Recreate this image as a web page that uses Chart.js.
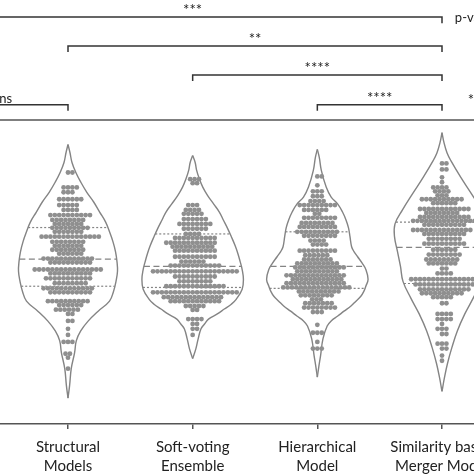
<!DOCTYPE html>
<html>
<head>
<meta charset="utf-8">
<script src="https://cdn.jsdelivr.net/npm/chart.js@4.4.1/dist/chart.umd.min.js"></script>
<style>
  html, body { margin: 0; padding: 0; width: 474px; height: 474px; overflow: hidden; background: #fff; }
  /* the figure is wider than the window: the outer categories fall outside the crop */
  #wrap { position: absolute; left: -123px; top: 0; width: 756px; height: 474px; }
</style>
</head>
<body>
<div id="wrap"><canvas id="myChart"></canvas></div>
<script>
// categories on the x axis (index 0 and 5 lie outside the visible crop)
var categories = [[""], ["Structural", "Models"], ["Soft-voting", "Ensemble"], ["Hierarchical", "Model"], ["Similarity based", "Merger Model"], [""]];
var tickPos = [0, 1, 2, 3, 4, 5];

// swarm points: value of each row and how many points sit on it
var structRowsV = [82.7, 77.8, 76.2, 73.9, 72.0, 70.4, 68.7, 67.1, 65.8, 64.5, 63.2, 61.6, 59.9, 58.6, 57.3, 56.0, 54.4, 53.1, 50.8, 49.5, 47.9, 46.3, 44.6, 43.3, 40.4, 39.1, 37.6, 36.2, 33.9, 31.3, 29.3, 27.0, 23.1, 21.8, 18.2];
var structRowsN = [2, 4, 3, 6, 5, 4, 10, 8, 7, 9, 7, 14, 8, 7, 8, 6, 12, 10, 16, 10, 11, 8, 12, 10, 10, 6, 6, 2, 2, 1, 1, 3, 2, 1, 1];
var softRowsV = [80.5, 79.2, 72.0, 70.4, 69.1, 67.4, 65.8, 64.2, 62.5, 61.2, 59.6, 58.3, 57.0, 55.0, 53.4, 52.1, 50.2, 48.5, 46.9, 45.3, 43.3, 41.7, 40.4, 38.8, 37.5, 34.5, 32.9, 31.3, 29.3];
var softRowsN = [3, 2, 3, 4, 5, 6, 8, 6, 4, 10, 12, 10, 10, 10, 6, 12, 20, 10, 8, 14, 20, 14, 12, 5, 2, 4, 2, 2, 1];
var hierRowsV = [81.4, 78.5, 76.5, 74.9, 73.3, 72.0, 70.4, 69.1, 67.8, 66.1, 64.8, 63.2, 61.9, 60.3, 59.0, 57.0, 55.5, 54.1, 52.8, 51.5, 50.2, 48.9, 47.6, 46.3, 44.9, 43.6, 42.3, 41.0, 39.7, 38.3, 36.8, 32.6, 30.0, 27.0, 24.8];
var hierRowsN = [2, 1, 3, 3, 4, 9, 6, 2, 8, 8, 9, 10, 8, 4, 4, 9, 6, 7, 10, 12, 10, 14, 12, 14, 16, 10, 8, 3, 7, 8, 3, 1, 3, 1, 3];
var simRowsV = [85.7, 83.7, 81.1, 79.5, 77.8, 76.5, 75.2, 73.9, 72.6, 70.7, 69.4, 68.1, 66.8, 65.5, 63.8, 62.5, 60.9, 59.3, 57.3, 55.7, 54.1, 52.8, 51.1, 49.5, 47.6, 45.9, 44.3, 43.0, 41.7, 39.7, 36.2, 34.5, 32.9, 31.3, 29.6, 26.4, 24.8, 22.5, 20.8];
var simRowsN = [2, 2, 1, 1, 4, 4, 3, 10, 6, 12, 8, 12, 15, 10, 14, 10, 8, 10, 6, 8, 8, 7, 2, 4, 15, 14, 12, 10, 5, 2, 4, 4, 1, 3, 2, 3, 2, 1, 1];

// violin outlines: value and half width (in category units), top to bottom
var structShapeV = [91.9, 89.2, 86.0, 82.7, 79.5, 76.2, 73.0, 69.7, 66.4, 63.2, 59.9, 56.7, 53.4, 50.2, 46.9, 43.6, 40.4, 37.1, 33.9, 30.6, 27.4, 23.5, 18.2, 12.7, 8.5];
var structShapeW = [0, 0.016, 0.032, 0.063, 0.103, 0.151, 0.206, 0.254, 0.302, 0.333, 0.361, 0.381, 0.393, 0.397, 0.385, 0.365, 0.333, 0.242, 0.163, 0.102, 0.067, 0.053, 0.026, 0.013, 0];
var softShapeV = [88.3, 86.0, 83.4, 80.8, 77.9, 75.2, 72.3, 69.7, 67.1, 64.5, 61.6, 58.6, 56.0, 53.4, 50.8, 47.6, 44.3, 41.0, 39.4, 37.8, 36.2, 34.5, 32.9, 31.3, 28.0, 24.8, 21.5];
var softShapeW = [0, 0.020, 0.032, 0.052, 0.081, 0.119, 0.169, 0.214, 0.246, 0.278, 0.310, 0.341, 0.363, 0.381, 0.397, 0.407, 0.397, 0.349, 0.310, 0.254, 0.198, 0.127, 0.095, 0.067, 0.044, 0.026, 0];
var hierShapeV = [90.3, 87.6, 83.4, 77.9, 74.6, 72.3, 69.7, 67.1, 64.5, 61.6, 58.3, 56.7, 55.0, 52.8, 50.8, 47.6, 45.3, 43.6, 42.0, 40.4, 38.8, 37.1, 35.5, 33.9, 32.2, 28.0, 22.5, 18.9, 15.4];
var hierShapeW = [0, 0.016, 0.032, 0.071, 0.111, 0.164, 0.202, 0.230, 0.250, 0.262, 0.275, 0.294, 0.323, 0.361, 0.389, 0.407, 0.389, 0.373, 0.349, 0.310, 0.270, 0.214, 0.164, 0.111, 0.079, 0.045, 0.026, 0.012, 0];
var simShapeV = [95.8, 92.5, 89.2, 86.6, 81.1, 75.6, 70.4, 65.8, 61.6, 56.7, 51.8, 46.9, 41.4, 36.2, 30.6, 25.1, 19.9, 15.3, 10.7];
var simShapeW = [0, 0.016, 0.040, 0.071, 0.151, 0.238, 0.317, 0.377, 0.381, 0.357, 0.333, 0.313, 0.250, 0.183, 0.123, 0.079, 0.044, 0.020, 0];

// quartile lines inside the violins (categories 1..4)
var quartQ3 = [64.6, 62.5, 63.2, 66.4];
var quartMed = [54.2, 51.8, 51.8, 58.1];
var quartQ1 = [45.3, 44.9, 44.6, 46.2];

// significance brackets
var bracketFrom = [0, 1, 2, 0, 3];
var bracketTo = [4, 4, 4, 1, 4];
var bracketLevel = [133.8, 124.3, 114.8, 105.0, 105.0];
var bracketText = ["***", "**", "****", "ns", "****"];
var bracketDrop = 2;
var sepLevel = 100;

// loose notes on the right edge
var noteText = ["p-value annotation legend:", "*"];
var noteX = [4.103, 4.206];
var noteY = [132.1, 104.9];

var rowsV = [structRowsV, softRowsV, hierRowsV, simRowsV];
var rowsN = [structRowsN, softRowsN, hierRowsN, simRowsN];
var shapeV = [structShapeV, softShapeV, hierShapeV, simShapeV];
var shapeW = [structShapeW, softShapeW, hierShapeW, simShapeW];

var GRAY = "#848484";
var DOT = "#8f8f8f";
var INK = "#333333";

Chart.defaults.font.family = "Lato";

function expandRows(vals, counts) {
    var out = [];
    vals.forEach(function (v, i) {
        for (var k = 0; k < counts[i]; k++) out.push(v);
    });
    return out;
}

// half width of a violin at value v (linear between outline samples)
function widthAt(vs, ws, v) {
    for (var i = 0; i < vs.length - 1; i++) {
        if (v <= vs[i] && v >= vs[i + 1]) {
            var t = (vs[i] - v) / (vs[i] - vs[i + 1]);
            return ws[i] + t * (ws[i + 1] - ws[i]);
        }
    }
    return 0;
}

// seaborn-like swarm layout, in pixels
function beeswarm(py, d) {
    var order = py.map(function (_, i) { return i; }).sort(function (a, b) { return py[b] - py[a]; });
    var placed = [], out = [];
    order.forEach(function (i) {
        var y = py[i];
        var near = placed.filter(function (p) { return Math.abs(p.y - y) < d; });
        var cands = [0];
        near.forEach(function (p) {
            var dx = Math.sqrt(d * d - (p.y - y) * (p.y - y));
            cands.push(p.x + dx, p.x - dx);
        });
        cands.sort(function (a, b) { return Math.abs(a) - Math.abs(b); });
        var x = cands.find(function (c) {
            return near.every(function (p) {
                return (c - p.x) * (c - p.x) + (y - p.y) * (y - p.y) >= d * d - 0.01;
            });
        });
        placed.push({ x: x, y: y });
        out[i] = x;
    });
    return out;
}

var datasets = [];
var swarmValues = [];

// swarm points (drawn on top)
for (var k = 0; k < 4; k++) {
    var vals = expandRows(rowsV[k], rowsN[k]);
    swarmValues.push(vals);
    datasets.push({
        type: "scatter",
        data: vals.map(function (v) { return { x: k + 1, y: v }; }),
        pointRadius: 2.4,
        pointBackgroundColor: DOT,
        pointBorderWidth: 0,
        order: 0
    });
}

// violin outlines, one line per side
for (var k = 0; k < 4; k++) {
    [1, -1].forEach(function (side) {
        datasets.push({
            type: "line",
            data: shapeV[k].map(function (v, i) { return { x: k + 1 + side * shapeW[k][i], y: v }; }),
            borderColor: GRAY,
            borderWidth: 1.4,
            pointRadius: 0,
            tension: 0.4,
            fill: false,
            order: 1
        });
    });
}

// quartile lines
for (var k = 0; k < 4; k++) {
    [[quartQ3[k], [2, 2]], [quartMed[k], [6, 3.5]], [quartQ1[k], [2, 2]]].forEach(function (q) {
        var hw = widthAt(shapeV[k], shapeW[k], q[0]);
        datasets.push({
            type: "line",
            data: [{ x: k + 1 - hw, y: q[0] }, { x: k + 1 + hw, y: q[0] }],
            borderColor: GRAY,
            borderWidth: 1.2,
            borderDash: q[1],
            pointRadius: 0,
            order: 1
        });
    });
}

// brackets
bracketFrom.forEach(function (a, i) {
    var b = bracketTo[i], h = bracketLevel[i];
    datasets.push({
        type: "line",
        data: [{ x: a, y: h - bracketDrop }, { x: a, y: h }, { x: b, y: h }, { x: b, y: h - bracketDrop }],
        borderColor: INK,
        borderWidth: 1.5,
        pointRadius: 0,
        order: 1
    });
});

// separator under the brackets
datasets.push({
    type: "line",
    data: [{ x: -0.5, y: sepLevel }, { x: 5.5, y: sepLevel }],
    borderColor: "#555555",
    borderWidth: 1.5,
    pointRadius: 0,
    order: 1
});

var bracketLabels = {
    id: "bracketLabels",
    afterDatasetsDraw: function (chart) {
        var ctx = chart.ctx, x = chart.scales.x, y = chart.scales.y;
        ctx.save();
        ctx.fillStyle = "#222";
        ctx.textAlign = "center";
        ctx.textBaseline = "alphabetic";
        bracketText.forEach(function (t, i) {
            ctx.font = t === "ns" ? "13px Lato" : "15px Lato";
            ctx.fillText(t, x.getPixelForValue((bracketFrom[i] + bracketTo[i]) / 2), y.getPixelForValue(bracketLevel[i]) - 2);
        });
        ctx.textAlign = "left";
        noteText.forEach(function (t, i) {
            ctx.font = t === "*" ? "15px Lato" : "13px Lato";
            ctx.fillText(t, x.getPixelForValue(noteX[i]), y.getPixelForValue(noteY[i]));
        });
        ctx.restore();
    }
};

var ctx = document.getElementById("myChart").getContext("2d");
var myChart = new Chart(ctx, {
    type: "scatter",
    data: { datasets: datasets },
    options: {
        responsive: true,
        maintainAspectRatio: false,
        animation: false,
        layout: { padding: 0 },
        plugins: { legend: { display: false }, tooltip: { enabled: false } },
        scales: {
            x: {
                type: "linear",
                min: -0.5,
                max: 5.5,
                afterBuildTicks: function (scale) {
                    scale.ticks = tickPos.map(function (v) { return { value: v }; });
                },
                afterFit: function (scale) { scale.height = 50; },
                ticks: {
                    autoSkip: false,
                    maxRotation: 0,
                    padding: 8,
                    color: "#222",
                    font: { size: 15, lineHeight: 1.3 },
                    callback: function (value) { return categories[value] || ""; }
                },
                grid: { display: true, drawOnChartArea: false, drawTicks: true, tickLength: 5, color: "#555", lineWidth: 1.5 },
                border: { display: true, color: "#555", width: 1.5 }
            },
            y: { display: false, min: 0, max: 138.11 }
        }
    },
    plugins: [bracketLabels]
});

// lay the swarm out now that the scales know their pixels
var xs = myChart.scales.x, ys = myChart.scales.y;
swarmValues.forEach(function (vals, k) {
    var py = vals.map(function (v) { return ys.getPixelForValue(v); });
    var off = beeswarm(py, 4.4);
    var cx = xs.getPixelForValue(k + 1);
    myChart.data.datasets[k].data = vals.map(function (v, i) {
        return { x: xs.getValueForPixel(cx + off[i]), y: v };
    });
});
myChart.update("none");
</script>
</body>
</html>
